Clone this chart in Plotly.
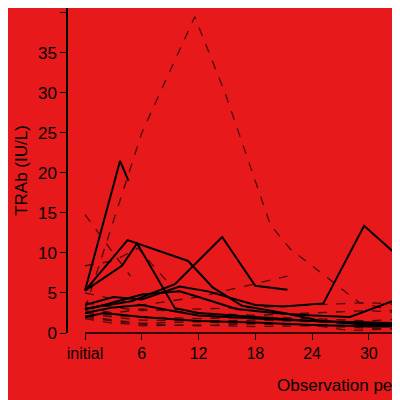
import plotly.graph_objects as go

# months, TRAb values (IU/L); solid = one group, dashed = other group
solid_x = [
    [0, 3.7, 4.6],
    [0, 4.5, 10.9, 13.5, 16.6, 21, 25, 30, 34],
    [0, 3.9, 5.5, 9.5, 12, 18, 24, 30, 34],
    [0, 5, 9.5, 14.5, 18, 21.4],
    [0, 3, 6, 10, 13, 18, 21, 25.2, 29.5, 33.5],
    [0, 2, 6, 10, 12, 16, 20, 24, 28, 33.5],
    [0, 3, 6, 9, 12, 18, 24, 30, 34],
    [0, 2, 6, 12, 18, 24, 30, 34],
]
solid_y = [
    [5.3, 21.5, 19],
    [5.3, 11.6, 9, 5.7, 3.4, 2.5, 1.5, 1, 1],
    [5.3, 8.4, 11.2, 3.1, 2.5, 2, 1.5, 1.2, 1],
    [3, 4, 6.1, 12, 5.9, 5.4],
    [3.5, 4.5, 4.2, 5.8, 5.2, 3.5, 3.3, 3.7, 13.4, 9.2],
    [3, 3.5, 4.8, 5.2, 4.5, 3, 2.5, 2.2, 2, 4.4],
    [2.5, 3.2, 3.5, 2.8, 2.2, 1.8, 1.5, 1.3, 1.2],
    [2, 2.5, 2, 1.5, 1.3, 1, 0.8, 0.8],
]
dash_x = [
    [0, 3, 6, 11.6, 14.8, 19.6, 21.7, 29, 33.5],
    [0, 4.8],
    [0, 3, 5.6, 9],
    [0, 6, 12, 21.4],
    [0, 3, 6, 12, 18, 24, 30, 34],
    [0, 3, 6, 12, 18, 24, 30, 34],
    [0, 3, 6, 12, 18, 24, 30, 34],
    [0, 3, 6, 12, 18, 24, 30, 34],
    [0, 3, 6, 12, 18, 24, 30, 34],
    [0, 3, 6, 12, 18, 24, 30, 34],
    [0, 3, 6, 12, 18, 24, 28, 34],
]
dash_y = [
    [3, 14, 25, 39.5, 30, 13.5, 10.5, 3.8, 2.5],
    [14.8, 7.1],
    [8.4, 9, 10.6, 6],
    [5, 3.5, 4.5, 7.1],
    [3.8, 3.2, 2.8, 3, 3.2, 3.5, 3.8, 3.5],
    [3.2, 2.5, 3, 2.5, 2.2, 2.5, 2.8, 2.5],
    [2.8, 2.2, 2.0, 1.8, 2.0, 1.8, 1.5, 1.8],
    [2.5, 2, 1.6, 1.5, 1.6, 1.4, 1.2, 1.3],
    [2.2, 1.6, 1.2, 1.4, 1.1, 1.0, 0.9, 0.9],
    [2.0, 1.5, 0.9, 1.0, 0.8, 0.9, 0.6, 0.5],
    [1.8, 1.2, 1.1, 0.9, 1.2, 1.0, 0.3, 0.6],
]
x_ticks = [0, 6, 12, 18, 24, 30]
x_labels = ["initial", "6", "12", "18", "24", "30"]
y_ticks = [0, 5, 10, 15, 20, 25, 30, 35, 40]

fig = go.Figure()
for xs, ys in zip(dash_x, dash_y):
    fig.add_trace(go.Scatter(x=xs, y=ys, mode="lines",
                             line=dict(color="#4a0a0a", width=1.3, dash="dash")))
for xs, ys in zip(solid_x, solid_y):
    fig.add_trace(go.Scatter(x=xs, y=ys, mode="lines",
                             line=dict(color="black", width=2)))

fig.add_shape(type="line", xref="x", yref="paper", x0=0, x1=40, y0=0, y1=0,
              line=dict(color="black", width=1.5))
fig.add_annotation(text="Observation period (months)", xref="paper", yref="paper",
                   x=(267 - 60) / 332, y=-52 / 325, xanchor="left", yanchor="middle",
                   showarrow=False, font=dict(size=17, color="black"))

fig.update_layout(
    width=400, height=400, showlegend=False,
    paper_bgcolor="#e8191b", plot_bgcolor="#e8191b",
    margin=dict(l=60, r=8, t=0, b=75),
    font=dict(family="Liberation Sans, Arial", size=17, color="black"),
    xaxis=dict(range=[-1.8, 33.3], tickvals=x_ticks, ticktext=x_labels,
               ticks="outside", ticklen=6, tickcolor="black", showgrid=False,
               zeroline=False, showline=False, tickfont=dict(size=16)),
    yaxis=dict(range=[0, 40.6], tickvals=y_ticks, ticks="outside", ticklen=6,
               tickcolor="black", showgrid=False, zeroline=False, showline=True,
               linecolor="black", linewidth=1.5,
               title=dict(text="TRAb (IU/L)", font=dict(size=17), standoff=6)),
)
fig.write_html("out.html")
